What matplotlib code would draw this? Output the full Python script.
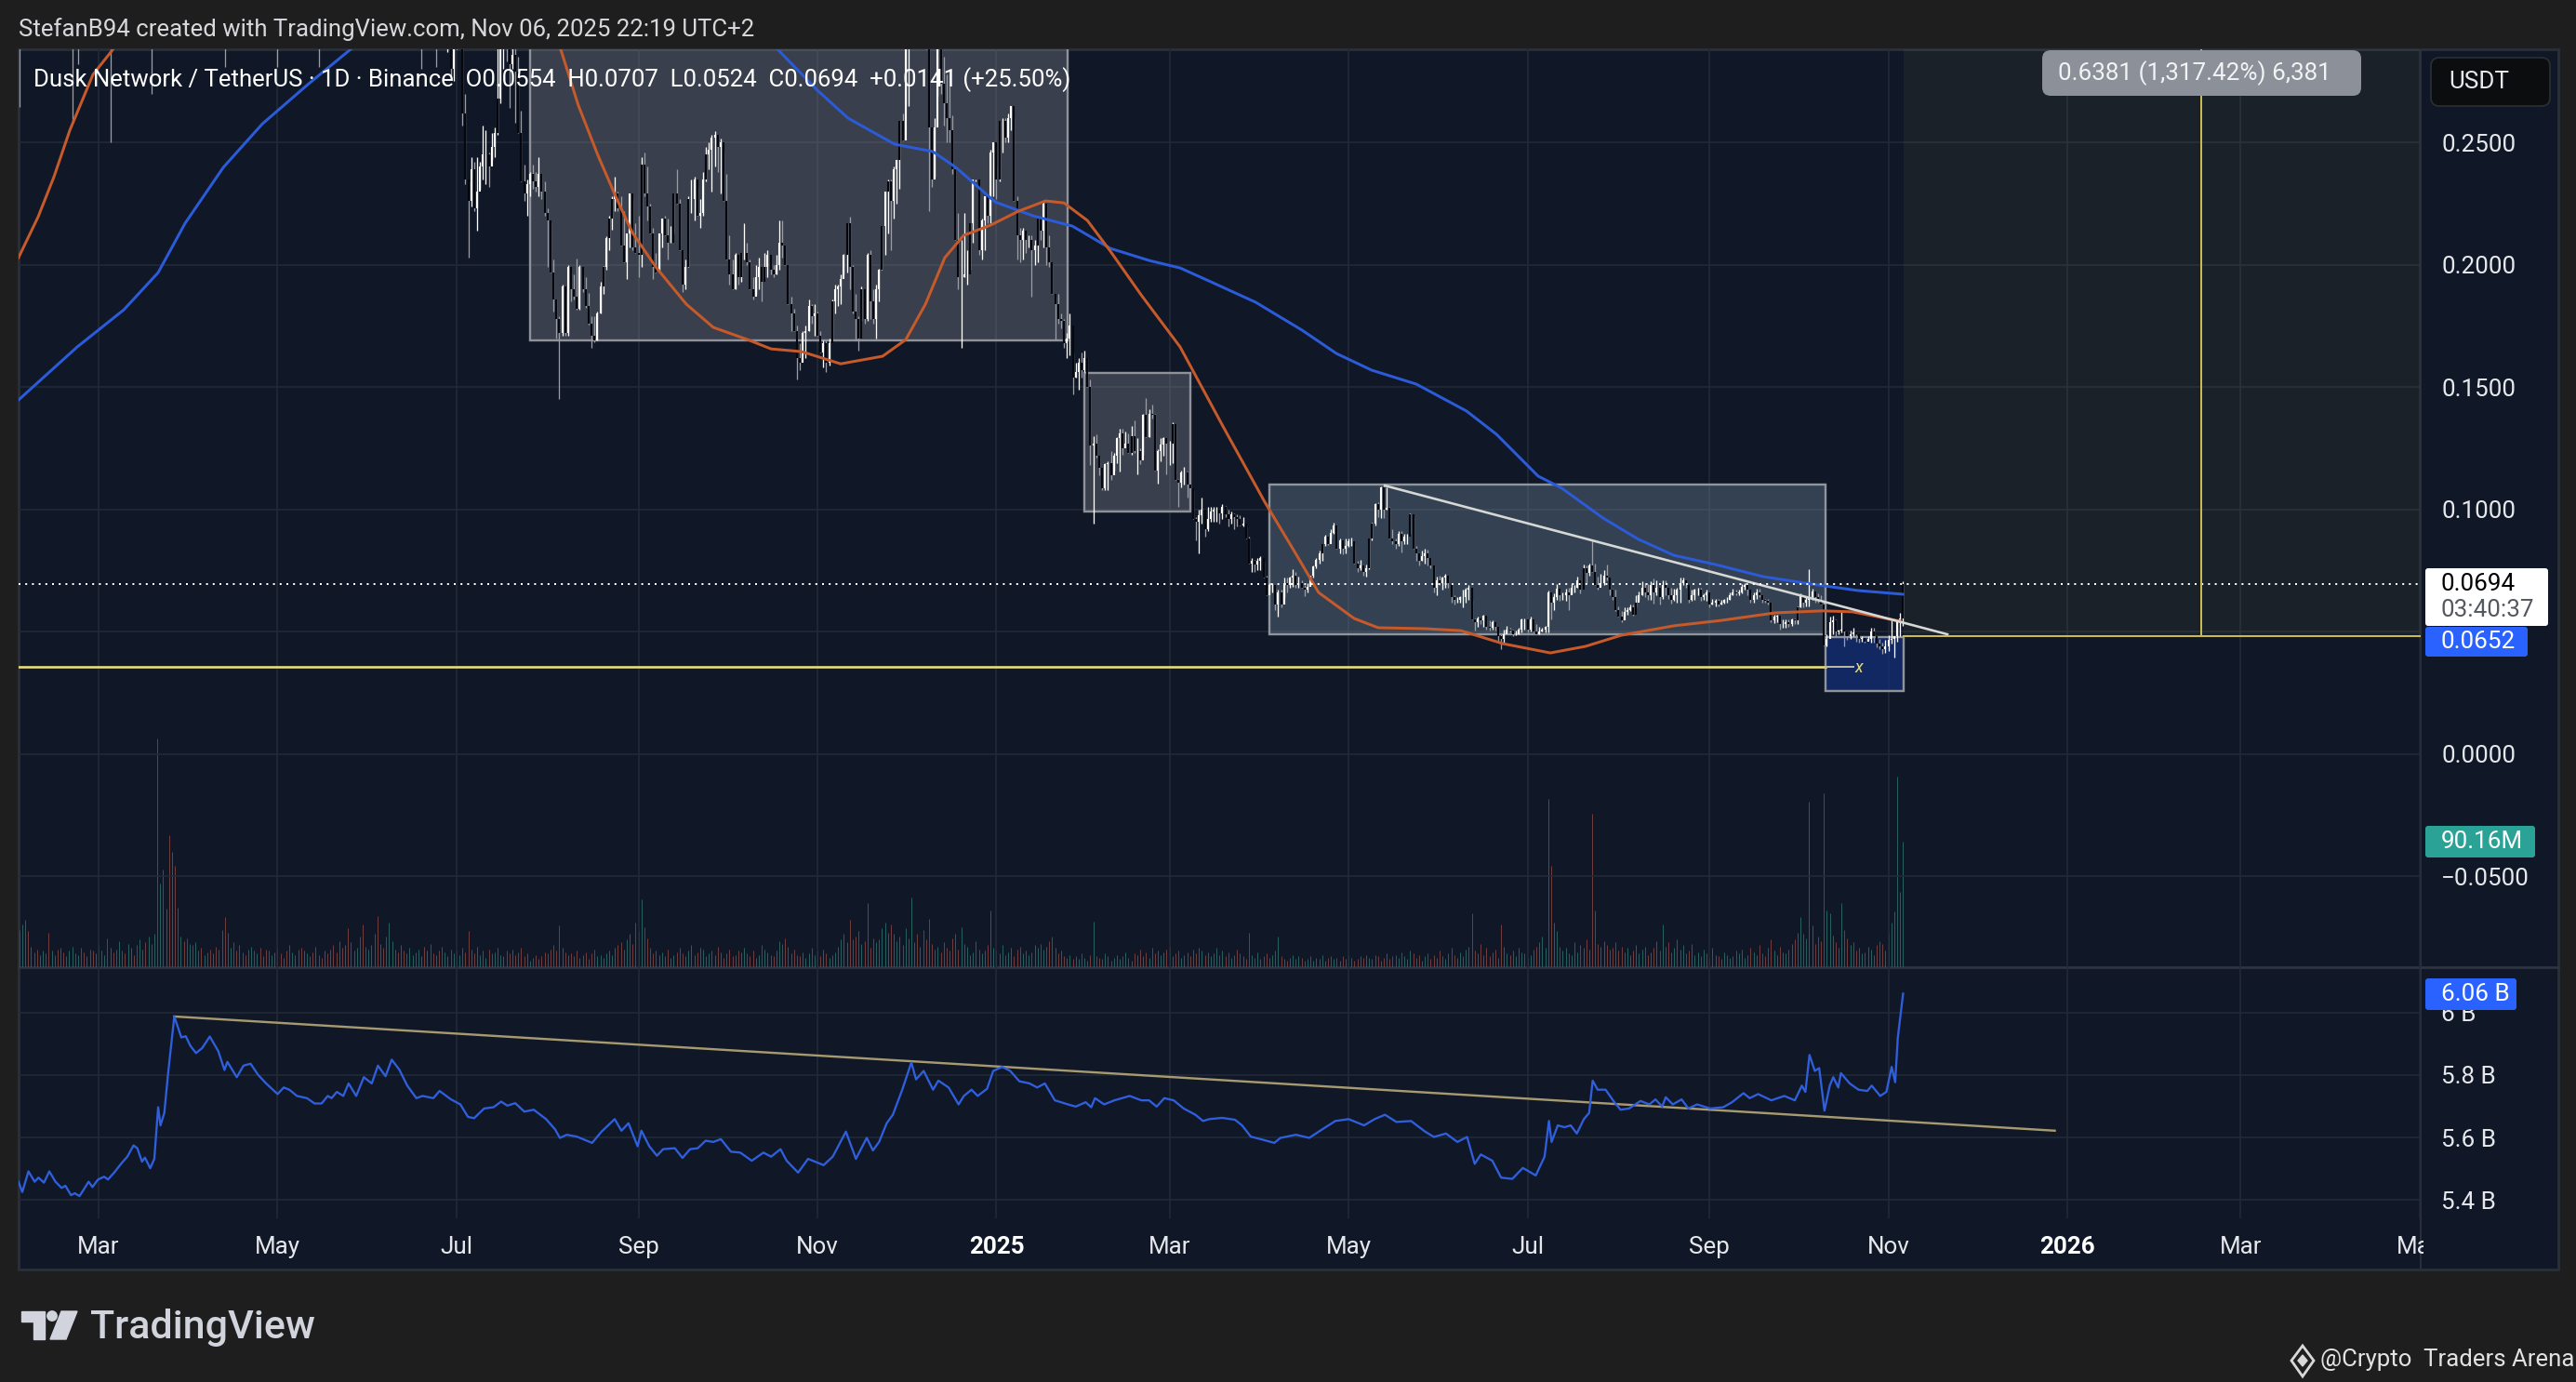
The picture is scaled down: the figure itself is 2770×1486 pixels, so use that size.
import pandas as pd
import matplotlib
matplotlib.use('Agg')
import matplotlib.pyplot as plt
from matplotlib.patches import Rectangle, FancyBboxPatch, Polygon, Circle

W, H = 2770, 1486
BASE = pd.Timestamp('2024-03-01')

# daily candles, 1e-4 USDT, last bar is 2025-11-06
close = [2960,2800,2900,3000,3100,2620,2350,2260,2390,2230, 2300,2400,2450,2450,2400,2480,2540,2680,2950,3050,
 3000,2820,2860,2790,2540,2340,2290,2330,2370,2340, 2320,2370,2300,2210,2180,1970,1860,1780,1720,1910,
 1720,1990,1900,1870,1820,1990,1900,1830,1760,1710, 1690,1800,1910,1990,2110,2190,2270,2290,2230,2080,
 2010,2130,2290,2070,2050,2040,2410,2290,2240,2130, 1990,1970,2130,2190,2120,2090,2090,2290,2250,2060,
 1920,1990,2270,2270,2350,2200,2210,2350,2450,2470, 2520,2530,2480,2500,2260,2020,1960,1900,2040,1950,
 2050,2050,2010,1900,1870,1950,1990,1930,1990,2040, 1980,1960,2000,2090,2080,2000,1840,1800,1730,1620,
 1600,1720,1730,1830,1790,1800,1710,1640,1680,1600, 1680,1850,1900,1910,1940,2040,2170,1990,1810,1780,
 1700,1900,1780,2040,1850,1780,1900,1980,2160,2300, 2340,2260,2390,2430,2590,2510,2880,2900,3050,3100,
 3000,3200,3150,3000,2560,2350,2560,2880,2740,2660, 2600,2550,2390,2100,1950,1950,1960,1960,2170,2350,
 2350,2060,2180,2280,2200,2460,2500,2350,2590,2590, 2520,2600,2650,2260,2120,2100,2140,2100,2100,2060,
 2080,2190,2140,2250,2070,2010,1880,1840,1780,1770, 1680,1700,1750,1540,1560,1600,1570,1620,1500,1260,
 1270,1220,1170,1085,1185,1190,1140,1220,1290,1310, 1250,1270,1230,1300,1240,1240,1200,1385,1295,1390,
 1385,1160,1240,1265,1290,1270,1270,1350,1120,1110, 1150,1150,1100,1085,960,950,975,1000,920,960,
 990,1000,1000,985,1010,980,960,980,970,960, 935,940,880,780,790,775,790,800,720,650,
 690,690,610,660,610,700,690,720,730,690, 700,680,670,685,730,765,795,820,860,890,
 860,905,935,840,875,840,850,870,870,780, 760,770,745,760,880,940,1020,1000,1090,1000,
 1005,880,870,860,900,870,890,890,980,840, 820,790,810,820,800,770,680,710,700,720,
 730,700,640,630,630,640,640,670,680,550, 540,555,545,565,520,515,540,520,480,470,
 490,510,505,490,490,510,550,550,510,550, 500,490,500,510,520,660,620,640,675,650,
 650,660,650,680,680,710,670,760,740,770, 745,690,680,700,730,720,670,640,590,560,
 545,580,590,600,570,620,650,680,660,650, 690,660,680,640,690,680,650,630,650,670,
 700,710,690,630,650,670,670,640,650,660, 610,620,625,610,620,630,630,650,660,655,
 660,685,690,670,630,650,660,650,630,625, 620,545,560,565,530,530,540,530,550,545,
 600,650,620,630,640,665,640,630,610,445, 470,540,545,500,505,510,500,480,490,495,
 490,470,475,460,470,500,480,450,440,430, 440,465,470,480,540,554,694]
high = [3100,3000,3050,3150,3300,3150,2700,2340,2440,2420, 2440,2420,2570,2550,2460,2540,2560,2900,3100,3200,
 3100,3050,3000,2950,2850,2630,2410,2350,2380,2410, 2380,2440,2370,2340,2230,2170,2020,1860,1790,1920,
 1880,2000,1970,1960,2025,2000,1960,1950,1885,1790, 1790,1810,1930,1995,2115,2200,2280,2360,2300,2280,
 2220,2130,2290,2270,2170,2200,2440,2460,2400,2250, 2150,2050,2130,2190,2200,2190,2160,2290,2390,2270,
 2060,2020,2280,2350,2360,2320,2270,2380,2480,2500, 2530,2545,2530,2515,2460,2370,2120,2020,2050,1980,
 2050,2170,2090,2020,1950,2000,2030,1990,2050,2060, 2010,2000,2040,2180,2180,2080,1990,1870,1820,1750,
 1680,1730,1750,1860,1840,1840,1810,1730,1690,1690, 1700,1860,1920,1920,1960,2045,2170,2195,2000,1880,
 1790,1910,1900,2050,2060,1900,1920,1985,2160,2300, 2350,2350,2400,2430,2590,2620,3000,3100,3200,3300,
 3200,3300,3300,3150,2950,2550,2600,3050,2900,2850, 2780,2800,2610,2405,2210,2100,2210,2060,2170,2350,
 2350,2270,2190,2280,2260,2470,2500,2400,2590,2600, 2600,2620,2650,2600,2280,2150,2150,2130,2120,2120,
 2100,2200,2190,2260,2250,2120,2000,1870,1880,1800, 1780,1720,1800,1640,1600,1620,1640,1650,1620,1530,
 1300,1305,1210,1170,1190,1195,1240,1230,1295,1330, 1330,1320,1310,1340,1365,1290,1250,1390,1455,1410,
 1430,1390,1245,1290,1295,1275,1280,1355,1345,1125, 1160,1175,1155,1100,1080,970,1000,1050,960,1010,
 1010,1010,1010,1000,1020,1015,1000,990,985,980, 975,970,930,890,800,795,800,810,790,730,
 700,700,680,670,670,720,720,725,755,745, 725,710,690,700,730,770,800,830,860,895,
 880,920,945,935,880,875,880,880,885,860, 790,795,770,775,880,945,1025,1030,1095,1100,
 1090,1010,920,880,910,910,900,900,985,970, 850,820,830,840,835,800,770,725,730,725,
 735,725,690,650,640,645,670,680,690,630, 555,560,555,570,545,545,545,535,520,490,
 510,525,515,510,505,515,555,555,550,560, 550,530,520,515,525,668,650,655,695,670,
 660,675,680,700,690,725,695,775,770,780, 875,780,725,735,750,775,695,675,670,605,
 585,600,600,610,610,650,665,705,700,695, 705,718,710,680,710,710,675,680,675,680,
 720,720,705,690,670,675,680,680,655,670, 650,635,635,635,630,635,640,660,675,670,
 670,695,700,695,660,660,675,675,650,635, 635,620,570,570,565,550,550,550,555,555,
 605,655,635,640,755,675,665,655,650,625, 490,560,565,550,510,585,510,500,505,515,
 490,485,480,470,480,515,515,480,470,455, 465,485,550,480,540,575,707]
low = [2870,2770,2750,2880,2950,2570,2330,2030,2240,2220, 2140,2310,2350,2330,2320,2430,2440,2530,2660,2800,
 2830,2640,2800,2580,2540,2340,2260,2200,2280,2310, 2300,2280,2270,2200,1990,1970,1810,1700,1450,1710,
 1710,1710,1850,1860,1815,1815,1890,1825,1755,1660, 1685,1690,1800,1880,1980,2060,2145,2220,2220,2080,
 2010,1940,2070,2060,2050,1950,1990,2280,2180,2130, 1940,1970,1970,2070,2120,2020,2090,2130,2250,2060,
 1890,1900,1990,2210,2180,2200,2150,2200,2340,2390, 2300,2400,2380,2290,2260,2020,1920,1900,1900,1920,
 1930,2020,2000,1900,1860,1880,1900,1850,1950,1950, 1960,1950,1960,1980,2030,2000,1840,1730,1730,1530,
 1570,1630,1620,1730,1760,1710,1710,1640,1580,1560, 1590,1690,1800,1830,1840,1960,1970,1900,1800,1690,
 1650,1770,1760,1770,1780,1760,1700,1850,1980,2040, 2130,2060,2190,2250,2310,2510,2650,2650,2900,2950,
 2900,3000,2950,2880,2220,2320,2360,2690,2700,2570, 2500,2500,2370,2100,1900,1660,1950,1920,1980,2090,
 2340,2040,2020,2060,2170,2170,2280,2270,2340,2460, 2500,2500,2550,2260,2020,2010,2020,2050,2070,1870,
 2000,2010,2100,2070,2000,1990,1880,1690,1760,1740, 1660,1620,1630,1470,1540,1490,1540,1560,1500,1180,
 940,1210,1140,1080,1080,1080,1120,1160,1190,1155, 1225,1270,1230,1225,1230,1145,1185,1225,1295,1295,
 1370,1160,1105,1195,1220,1145,1180,1190,1120,1010, 1090,1100,1050,1085,960,875,820,940,890,910,
 950,950,950,940,960,970,930,940,920,930, 935,930,880,780,745,745,750,750,720,650,
 670,660,590,560,600,640,660,680,685,680, 680,680,645,660,690,720,760,780,790,850,
 855,880,900,840,820,815,820,845,850,780, 745,750,730,725,755,875,935,970,965,965,
 1000,880,860,840,850,825,860,860,900,840, 790,770,790,780,770,760,660,650,690,670,
 680,680,620,610,620,620,600,620,630,550, 505,520,530,520,510,505,510,505,460,430,
 450,495,495,480,485,490,495,510,495,500, 495,490,490,500,495,495,550,590,630,625,
 630,625,590,655,660,680,655,700,700,730, 745,690,670,700,690,710,650,630,585,560,
 540,565,570,585,565,600,630,650,640,630, 630,615,650,610,635,650,635,615,625,620,
 620,690,680,620,625,630,650,625,630,625, 600,610,605,605,610,615,620,630,650,650,
 650,655,670,650,620,620,635,640,620,620, 610,540,535,540,510,515,515,520,525,530,
 530,600,600,605,605,630,620,620,610,445, 440,480,490,480,490,495,440,465,470,480,
 460,455,460,455,465,455,455,435,430,408, 415,420,450,395,460,480,524]
# rising bars that show a black body in the picture, by position in the lists above
black_rising = [17,53,55,56,66,77,82,88,100,108,131,136,141,148,150,154,178,188,201,233,247,298,314,315,328,387,405,460,496]

# bars before the candle list only show their lower wicks
early_days = [-27, -9, -7, 4, 18, 43, 61, 75, 110, 115]
early_lows = [.2645, .258, .282, .25, .27, .281, .281, .281, .28, .281]

# daily volume in millions, last value is 90.16
volume = [27,31,34,26,15,11,13,9,12,10,25,12,9,13,14,11,8,12,15,10,
 9,14,11,8,13,12,10,16,12,9,21,14,11,13,19,12,10,17,14,9,
 16,20,13,18,22,17,24,164,60,70,42,95,83,73,43,22,19,21,17,16,
 18,12,14,9,11,13,10,15,13,27,36,25,14,18,12,16,11,9,13,15,
 12,10,14,8,13,12,9,11,14,10,7,12,16,11,9,13,14,12,10,8,
 11,15,9,7,12,10,13,16,11,19,14,16,28,18,12,14,22,31,15,13,
 16,24,37,17,14,22,32,19,13,11,16,12,10,14,9,11,13,8,15,12,
 17,10,9,12,15,11,8,13,10,12,9,14,11,26,13,10,15,9,12,7,
 13,10,11,14,9,8,12,10,13,9,11,14,8,10,5,7,9,6,8,11,
 10,13,16,12,30,14,11,9,10,8,12,7,9,11,6,10,13,8,9,7,
 10,12,9,14,16,18,13,20,24,17,32,26,49,29,21,14,10,12,9,11,
 8,13,7,9,11,14,10,8,12,16,9,11,14,13,8,10,12,9,15,11,
 7,10,13,8,9,12,11,14,10,8,12,7,9,16,13,11,9,8,12,19,
 17,21,15,10,13,9,8,11,7,10,14,9,12,8,13,10,7,9,11,15,
 20,24,18,34,20,22,26,17,19,46,14,21,18,20,28,32,25,31,24,19,
 22,16,28,21,50,18,24,15,27,20,35,17,13,15,11,18,14,12,21,24,
 13,29,17,15,9,11,19,13,10,12,16,41,14,12,10,16,9,11,14,8,
 13,15,10,12,9,11,16,14,17,13,15,19,22,14,10,12,8,7,9,6,
 8,6,10,7,5,9,33,8,7,6,10,8,5,7,9,6,8,11,7,5,
 10,9,13,8,11,7,14,10,12,9,11,13,15,8,10,12,7,9,11,8,
 13,10,14,12,9,11,8,10,14,9,12,8,11,7,9,13,10,8,6,25,
 9,7,11,6,8,10,7,9,12,22,8,6,5,7,9,6,8,7,5,6,
 8,5,7,6,9,5,7,8,6,7,5,8,6,9,7,5,6,8,7,9,
 7,6,9,8,5,7,10,6,8,9,7,11,8,6,12,10,7,9,5,8,
 10,6,9,7,12,8,6,10,14,9,7,11,8,13,15,39,12,10,17,9,
 14,8,11,13,7,31,15,10,9,12,8,14,11,10,7,9,13,15,18,22,
 14,121,73,32,26,15,12,14,10,9,18,11,16,14,20,13,110,41,17,15,
 19,16,13,14,18,12,15,11,14,9,12,16,10,13,15,9,11,14,19,12,
 31,15,18,11,14,20,13,16,10,12,17,9,11,8,13,10,7,14,9,8,
 6,11,9,7,8,12,10,13,7,9,14,11,9,16,10,8,14,20,12,9,
 15,11,10,13,17,20,25,36,24,21,119,30,17,22,19,125,41,39,23,18,
 14,46,27,21,16,18,12,14,10,11,15,13,9,16,19,17,12,25,32,40,
 137,54,90.16]
# direction of the volume bars older than the candle list (u up, d down)
early_dir = ("duududduudduddudduud" "uddudduudududdudduud" "dudduuududududduddud" "uddudduddudduddudduu"
             "dududduuddudduudduud" "duddududdududduudddu" "uddudduuddud" "duuduudu" "dduddudu" "udud")

ma_blue_days = [-27.3,-7.3,8.6,20.3,29.5,42.5,55.8,71.6,85.9,150,200,231.4,245,255.5,271.3,284.3,292.2,305.5,318.5,331.9,
 344.8,358.2,368.6,378.4,394.3,410.1,421.9,433.9,449.1,466.2,476.4,490.6,498.6,512.8,524.9,536.9,551.2,567.3,583.5,599.7,614.9]
ma_blue = [.1447,.1664,.1816,.1968,.2170,.2398,.2576,.2740,.2881,.34,.36,.2881,.2713,.2599,.2493,.2463,.2398,.2257,.2200,.2158,
 .2067,.2017,.1987,.1934,.1847,.1733,.1637,.1569,.1512,.1402,.1307,.1136,.1087,.0964,.0877,.0812,.0774,.0725,.0695,.0668,.0653]
ma_orange_days = [-27.3,-20.6,-15.2,-9.8,-1.9,4.4,60,120,157.5,163.5,170.2,176.5,181.9,189.9,200.3,209.5,221.2,229.2,239.6,252.9,
 267.2,275.1,281.8,288.4,294.8,304,313.5,322.7,329,337,344.8,355.3,368.6,383.5,397.5,407.6,415.8,427.9,436.1,452.3,
 464.3,478.6,494.8,506.8,518.9,536.9,553.1,571.5,587.6,597.8,613.9]
ma_orange = [.2029,.2196,.2360,.2550,.2778,.2873,.38,.36,.2881,.2652,.2447,.2272,.2132,.1991,.1839,.1744,.1694,.1656,.1645,.1595,
 .1626,.1694,.1839,.2029,.2120,.2162,.2219,.2261,.2253,.2181,.2056,.1877,.1664,.1333,.1029,.0827,.0660,.0554,.0516,.0512,
 .0504,.0451,.0413,.0440,.0485,.0524,.0546,.0577,.0585,.0581,.0543]

obv_days = [-27.3,-26,-23.9,-21.8,-20.5,-18.6,-16.8,-14.7,-12.6,-11.3,-9.4,-8.1,-6.5,-5.2,-3.4,-2.1,-.2,1.9,3.2,5.3,
 7.9,9.8,11.9,13.2,14.8,15.8,17.6,19,20.3,21.1,22.4,23.7,25.8,28.2,29.7,31.3,33.2,35.3,37.9,40.8,
 42.9,43.9,47.1,49.4,51.8,54.4,57.1,61,63.1,65,67.6,71,73.6,76,78.1,79.4,81.2,83.4,85.2,87.8,
 90.4,93.1,95.2,97.8,99.9,102.5,105.2,108.3,110.4,114.1,116.2,120.1,123.3,125.9,128,131.4,134.6,137.2,139.3,142,
 145.1,148.3,152.5,155.6,157.2,159.6,163,168.2,171.4,175.9,178.2,180.6,183.7,185,187.7,190.3,192.4,196.4,199,201.6,
 204.2,206.9,209.5,212.1,215.5,218.7,222.6,226.6,229.2,232.4,234.5,238.4,241.8,247.1,250.2,254.7,258.1,261.8,263.9,266,
 268.6,270.7,273.9,277,278.6,281.2,284.4,286.2,289.7,293.1,294.9,297.5,299.6,302.8,304.9,308,310.7,313.8,317.3,319.9,
 322.5,325.9,330.4,333,336.4,338.3,339.6,342.7,346.2,351.4,355.4,358,360.6,363.2,366.4,369.8,373.8,376.4,378.5,382.9,
 387.3,389.7,392.7,396.8,400.7,402.8,408.1,412.6,417,421.5,426,431.3,434.9,438.4,442.3,447.3,452.1,455.1,459.2,463.1,
 466.4,469,471.1,475,478,481.8,485.4,489.8,492.8,494.3,495.2,497.3,499.6,501.7,503.8,506.2,508,509.2,510.9,513.6,
 516.6,518.7,521.6,525.5,528.5,530.6,532.9,534.1,536.5,539.5,541.8,544.8,549.3,553.7,556.7,560.6,562.7,565.6,570.1,574.5,
 578.1,580.5,581.7,583.1,584.9,586.4,588.2,590,591.2,592.9,593.8,596.8,599.8,602.8,604.3,607.2,609.3,611.1,612.3,613.2,615]
obv = [5.459,5.426,5.492,5.459,5.472,5.456,5.492,5.459,5.439,5.446,5.416,5.422,5.413,5.432,5.459,5.442,5.466,5.475,5.466,5.488,
 5.519,5.539,5.575,5.566,5.523,5.536,5.502,5.532,5.697,5.639,5.679,5.806,5.987,5.920,5.924,5.893,5.870,5.886,5.923,5.876,
 5.816,5.842,5.793,5.830,5.836,5.800,5.773,5.739,5.760,5.753,5.733,5.726,5.709,5.709,5.733,5.726,5.746,5.733,5.773,5.733,
 5.793,5.773,5.830,5.796,5.849,5.817,5.766,5.726,5.733,5.726,5.749,5.722,5.706,5.666,5.662,5.693,5.697,5.715,5.702,5.710,
 5.683,5.689,5.659,5.626,5.599,5.609,5.603,5.583,5.619,5.659,5.622,5.646,5.572,5.622,5.572,5.542,5.563,5.566,5.535,5.563,
 5.566,5.590,5.586,5.595,5.555,5.552,5.526,5.552,5.539,5.563,5.526,5.488,5.532,5.512,5.539,5.619,5.532,5.599,5.559,5.586,
 5.646,5.673,5.753,5.840,5.786,5.813,5.753,5.782,5.760,5.706,5.733,5.753,5.733,5.756,5.813,5.826,5.813,5.780,5.773,5.760,
 5.773,5.719,5.706,5.699,5.713,5.697,5.726,5.706,5.719,5.733,5.719,5.719,5.699,5.726,5.719,5.693,5.673,5.653,5.659,5.663,
 5.657,5.639,5.603,5.593,5.583,5.599,5.609,5.599,5.626,5.653,5.659,5.639,5.659,5.673,5.650,5.653,5.619,5.602,5.613,5.586,
 5.602,5.516,5.546,5.526,5.472,5.468,5.503,5.479,5.539,5.653,5.586,5.639,5.633,5.639,5.613,5.659,5.679,5.782,5.753,5.753,
 5.713,5.689,5.693,5.717,5.706,5.722,5.699,5.729,5.706,5.722,5.693,5.706,5.693,5.697,5.713,5.742,5.726,5.739,5.719,5.733,
 5.719,5.766,5.746,5.864,5.813,5.822,5.686,5.766,5.793,5.760,5.806,5.773,5.753,5.749,5.766,5.733,5.746,5.826,5.777,5.920,6.06]

# drawings: boxes as day0, day1, price low, price high
box_a = (147, 330.3, .1692, .32)
box_b = (336, 372, .0991, .1558)
box_c = (399, 588.5, .0490, .1101)
box_d = (588.5, 615.3, .0257, .0478)
long_zone = (615.3, 795, .0481, .32)
trend_days = [438.4, 630.1]
trend_prices = [.1097, .0489]
obv_trend_days = [25.8, 666.7]
obv_trend = [5.987, 5.622]
support = .0356
entry = .0481
target_day = 716.6
last_price = .0694

price_ticks = [.25, .2, .15, .1, .05, 0, -.05]
price_labels = ['0.2500', '0.2000', '0.1500', '0.1000', '', '0.0000', '\u22120.0500']
obv_ticks = [6, 5.8, 5.6, 5.4]
obv_labels = ['6 B', '5.8 B', '5.6 B', '5.4 B']
month_dates = ['2024-03-01','2024-05-01','2024-07-01','2024-09-01','2024-11-01','2025-01-01','2025-03-01',
               '2025-05-01','2025-07-01','2025-09-01','2025-11-01','2026-01-01','2026-03-01','2026-05-01']
month_labels = ['Mar','May','Jul','Sep','Nov','2025','Mar','May','Jul','Sep','Nov','2026','Mar','May']

BG = '#1e1e1e'
PANEL = '#101726'
GRID = '#232a38'
FRAME = '#2b2f3a'
TXT = '#e6e8ec'
AXIS_FS = 18.7
plt.rcParams['font.family'] = ['Roboto', 'DejaVu Sans']


def px_axes(left, top, right, bottom, **kw):
    return fig.add_axes([left / W, 1 - bottom / H, (right - left) / W, (bottom - top) / H], **kw)


def style_axes(a):
    a.set_facecolor('none')
    for s in a.spines.values():
        s.set_visible(False)
    a.tick_params(length=0)


def draw_box(b, face, edge, alpha=1.0, lw=2.4):
    ax.add_patch(Rectangle((b[0], b[2]), b[1] - b[0], b[3] - b[2], facecolor=matplotlib.colors.to_rgba(face, alpha),
                           edgecolor=edge, lw=lw * .72, zorder=1.5))


fig = plt.figure(figsize=(W / 100, H / 100), dpi=100, facecolor=BG)

# everything that is not data goes on this pixel sized layer
back = px_axes(0, 0, W, H, zorder=0)
back.set_xlim(0, W)
back.set_ylim(H, 0)
back.axis('off')
back.add_patch(Rectangle((20, 53), 2731, 1312, facecolor=PANEL, edgecolor=FRAME, lw=2))
back.plot([2603, 2603], [53, 1365], color=FRAME, lw=1.4)
back.plot([20, 2751], [1040, 1040], color='#2f3440', lw=2)

xlim = (-27.26, 791.4)
days = (pd.date_range(end='2025-11-06', periods=len(close)) - BASE).days.to_numpy()
tick_days = [(pd.Timestamp(d) - BASE).days for d in month_dates]

# volume sits under the price pane
ax_vol = px_axes(20, 53, 2603, 1040, zorder=1)
style_axes(ax_vol)
ax_vol.set_xlim(xlim)
ax_vol.set_ylim(0, 659)
ax_vol.set_xticks([])
ax_vol.set_yticks([])
vol_days = (pd.date_range(end='2025-11-06', periods=len(volume)) - BASE).days.to_numpy()
candle_dir = ['u' if c >= o else 'd' for c, o in zip(close, [close[0]] + close[:-1])]
vol_dir = list(early_dir[:len(volume) - len(close)]) + candle_dir
vol_colors = ['#25605f' if v == 'u' else '#703c3b' for v in vol_dir]
ax_vol.vlines(vol_days, 0, volume, colors=vol_colors, lw=1.0 * .72)

# price pane
ax = px_axes(20, 53, 2603, 1040, zorder=2)
style_axes(ax)
ax.set_xlim(xlim)
ax.set_ylim(-.0872, .2881)
ax.set_xticks(tick_days)
ax.set_xticklabels([])
ax.set_yticks(price_ticks)
ax.set_yticklabels(price_labels, fontsize=AXIS_FS, color=TXT)
ax.yaxis.tick_right()
ax.tick_params(axis='y', pad=16, length=0)
ax.grid(color=GRID, lw=1.5 * .72, zorder=0)
ax.set_axisbelow(True)

ax.add_patch(Rectangle((long_zone[0], long_zone[2]), long_zone[1] - long_zone[0], long_zone[3] - long_zone[2],
                       facecolor='#8f8f50', alpha=.09, edgecolor='none', zorder=1))
draw_box(box_a, '#9a9da6', '#8f929a', .30)
draw_box(box_b, '#9a9da6', '#8f929a', .30)
draw_box(box_c, '#7a94a8', '#8f959d', .34)
draw_box(box_d, '#14307a', '#8f949c', .72)

opens = [close[0]] + close[:-1]
c_arr = [v / 1e4 for v in close]
o_arr = [v / 1e4 for v in opens]
h_arr = [v / 1e4 for v in high]
l_arr = [v / 1e4 for v in low]
wick_cols = ['#ffffff' if c >= o else '#9a9da5' for c, o in zip(c_arr, o_arr)]
body_cols = ['#ffffff' if c >= o else '#05070c' for c, o in zip(c_arr, o_arr)]
for n in black_rising:
    body_cols[n] = '#05070c'
ax.vlines(early_days, early_lows, .32, colors='#9a9da5', lw=1.3 * .72, zorder=3)
ax.vlines(days, l_arr, h_arr, colors=wick_cols, lw=1.3 * .72, zorder=3)
ax.vlines(days, o_arr, c_arr, colors=body_cols, lw=2.1 * .72, zorder=3.2)

ax.plot(ma_blue_days, ma_blue, color='#2b5bd8', lw=3 * .72, zorder=4)
ax.plot(ma_orange_days, ma_orange, color='#c65a2a', lw=3 * .72, zorder=4)
ax.plot(trend_days, trend_prices, color='#d6d8d6', lw=2.6 * .72, zorder=5)

ax.axhline(last_price, color='#ffffff', lw=2 * .72, ls=(0, (1, 2.6)), zorder=5)
ax.plot([xlim[0], box_d[0]], [support, support], color='#e8dd7c', lw=2.6 * .72, zorder=5)
ax.plot([box_d[0], 598], [support, support], color='#b9b9a6', lw=2 * .72, zorder=5)
ax.text(600, support - .0003, 'x', color='#e8dd7c', fontsize=13, style='italic', ha='center', va='center', zorder=6)
ax.plot([box_d[1], xlim[1]], [entry, entry], color='#c9bb52', lw=2 * .72, zorder=5)
ax.plot([target_day, target_day], [entry, .29], color='#c9bb52', lw=2 * .72, zorder=5)

# obv pane
ax_obv = px_axes(20, 1040, 2603, 1310, zorder=2)
style_axes(ax_obv)
ax_obv.set_xlim(xlim)
ax_obv.set_ylim(5.342, 6.1444)
ax_obv.set_xticks(tick_days)
ax_obv.set_xticklabels([])
ax_obv.set_yticks(obv_ticks)
ax_obv.set_yticklabels(obv_labels, fontsize=AXIS_FS, color=TXT)
ax_obv.yaxis.tick_right()
ax_obv.tick_params(axis='y', pad=16, length=0)
ax_obv.grid(color=GRID, lw=1.5 * .72)
ax_obv.set_axisbelow(True)
ax_obv.plot(obv_trend_days, obv_trend, color='#a79a70', lw=2.4 * .72, zorder=3)
ax_obv.plot(obv_days, obv, color='#2f5fdc', lw=2.3 * .72, zorder=4)

# time axis, the last label is cut by the price scale
ax_time = px_axes(20, 1310, 2606, 1365, zorder=2)
style_axes(ax_time)
ax_time.set_xlim(xlim[0], xlim[1] + 3 / 3.155)
ax_time.set_ylim(0, 1)
ax_time.set_xticks([])
ax_time.set_yticks([])
for d, lab in zip(tick_days, month_labels):
    bold = lab.isdigit()
    ax_time.text(d, .44, lab, ha='center', va='center', color='#ffffff' if bold else TXT, clip_on=True,
                 fontsize=AXIS_FS, fontweight='bold' if bold else 'normal')

# top layer: header, badges, logo
top = px_axes(0, 0, W, H, zorder=10)
top.set_xlim(0, W)
top.set_ylim(H, 0)
top.axis('off')


def badge(x0, y0, x1, y1, color, edge='none', r=5):
    top.add_patch(FancyBboxPatch((x0, y0), x1 - x0, y1 - y0, boxstyle=f'round,pad=0,rounding_size={r}',
                                 facecolor=color, edgecolor=edge, lw=1.2))


top.text(20, 32, 'StefanB94 created with TradingView.com, Nov 06, 2025 22:19 UTC+2', color='#d6d8dc', fontsize=18.5,
         va='center')
top.text(36, 86, 'Dusk Network / TetherUS \u00b7 1D \u00b7 Binance  O0.0554  H0.0707  L0.0524  C0.0694  +0.0141 (+25.50%)',
         color='#ffffff', fontsize=18.55, va='center')

badge(2196, 54, 2539, 103, '#8c9099', r=9)
top.text(2213, 79, '0.6381 (1,317.42%) 6,381', color='#f2f3f5', fontsize=AXIS_FS, va='center')
badge(2614, 62, 2742, 114, '#0c0d0f', edge='#2c2f36', r=9)
top.text(2633, 88, 'USDT', color='#e6e8ec', fontsize=AXIS_FS, va='center')
badge(2608, 611, 2740, 673, '#ffffff', r=3)
top.text(2625, 628, '0.0694', color='#000000', fontsize=AXIS_FS, va='center')
top.text(2625, 656, '03:40:37', color='#55585f', fontsize=AXIS_FS, va='center')
badge(2608, 674, 2718, 706, '#2962ff', r=3)
top.text(2625, 690, '0.0652', color='#ffffff', fontsize=AXIS_FS, va='center')
badge(2608, 888, 2726, 922, '#2aa396', r=3)
top.text(2625, 905, '90.16M', color='#ffffff', fontsize=AXIS_FS, va='center')
badge(2608, 1052, 2706, 1086, '#2962ff', r=3)
top.text(2625, 1069, '6.06 B', color='#ffffff', fontsize=AXIS_FS, va='center')

# logo
LOGO = '#d1d4dc'
top.add_patch(Polygon([(23, 1410), (48, 1410), (48, 1440), (36, 1440), (36, 1421), (23, 1421)], color=LOGO))
top.add_patch(Circle((56, 1415), 5.2, color=LOGO))
top.add_patch(Polygon([(66, 1410), (83, 1410), (71, 1440), (54, 1440)], color=LOGO))
top.text(97, 1427, 'TradingView', color=LOGO, fontsize=31, fontweight='medium', va='center')

# watermark
top.add_patch(Polygon([(2476, 1447), (2488, 1463), (2476, 1480), (2464, 1463)], facecolor='none', edgecolor='#d8d8d8', lw=2))
top.add_patch(Polygon([(2476, 1457), (2481, 1463), (2476, 1469), (2471, 1463)], color='#d8d8d8'))
top.text(2495, 1462, '@Crypto  Traders Arena', color='#e2e2e2', fontsize=18.5, va='center', clip_on=True)

fig.savefig('out.png', dpi=100, facecolor=BG)
